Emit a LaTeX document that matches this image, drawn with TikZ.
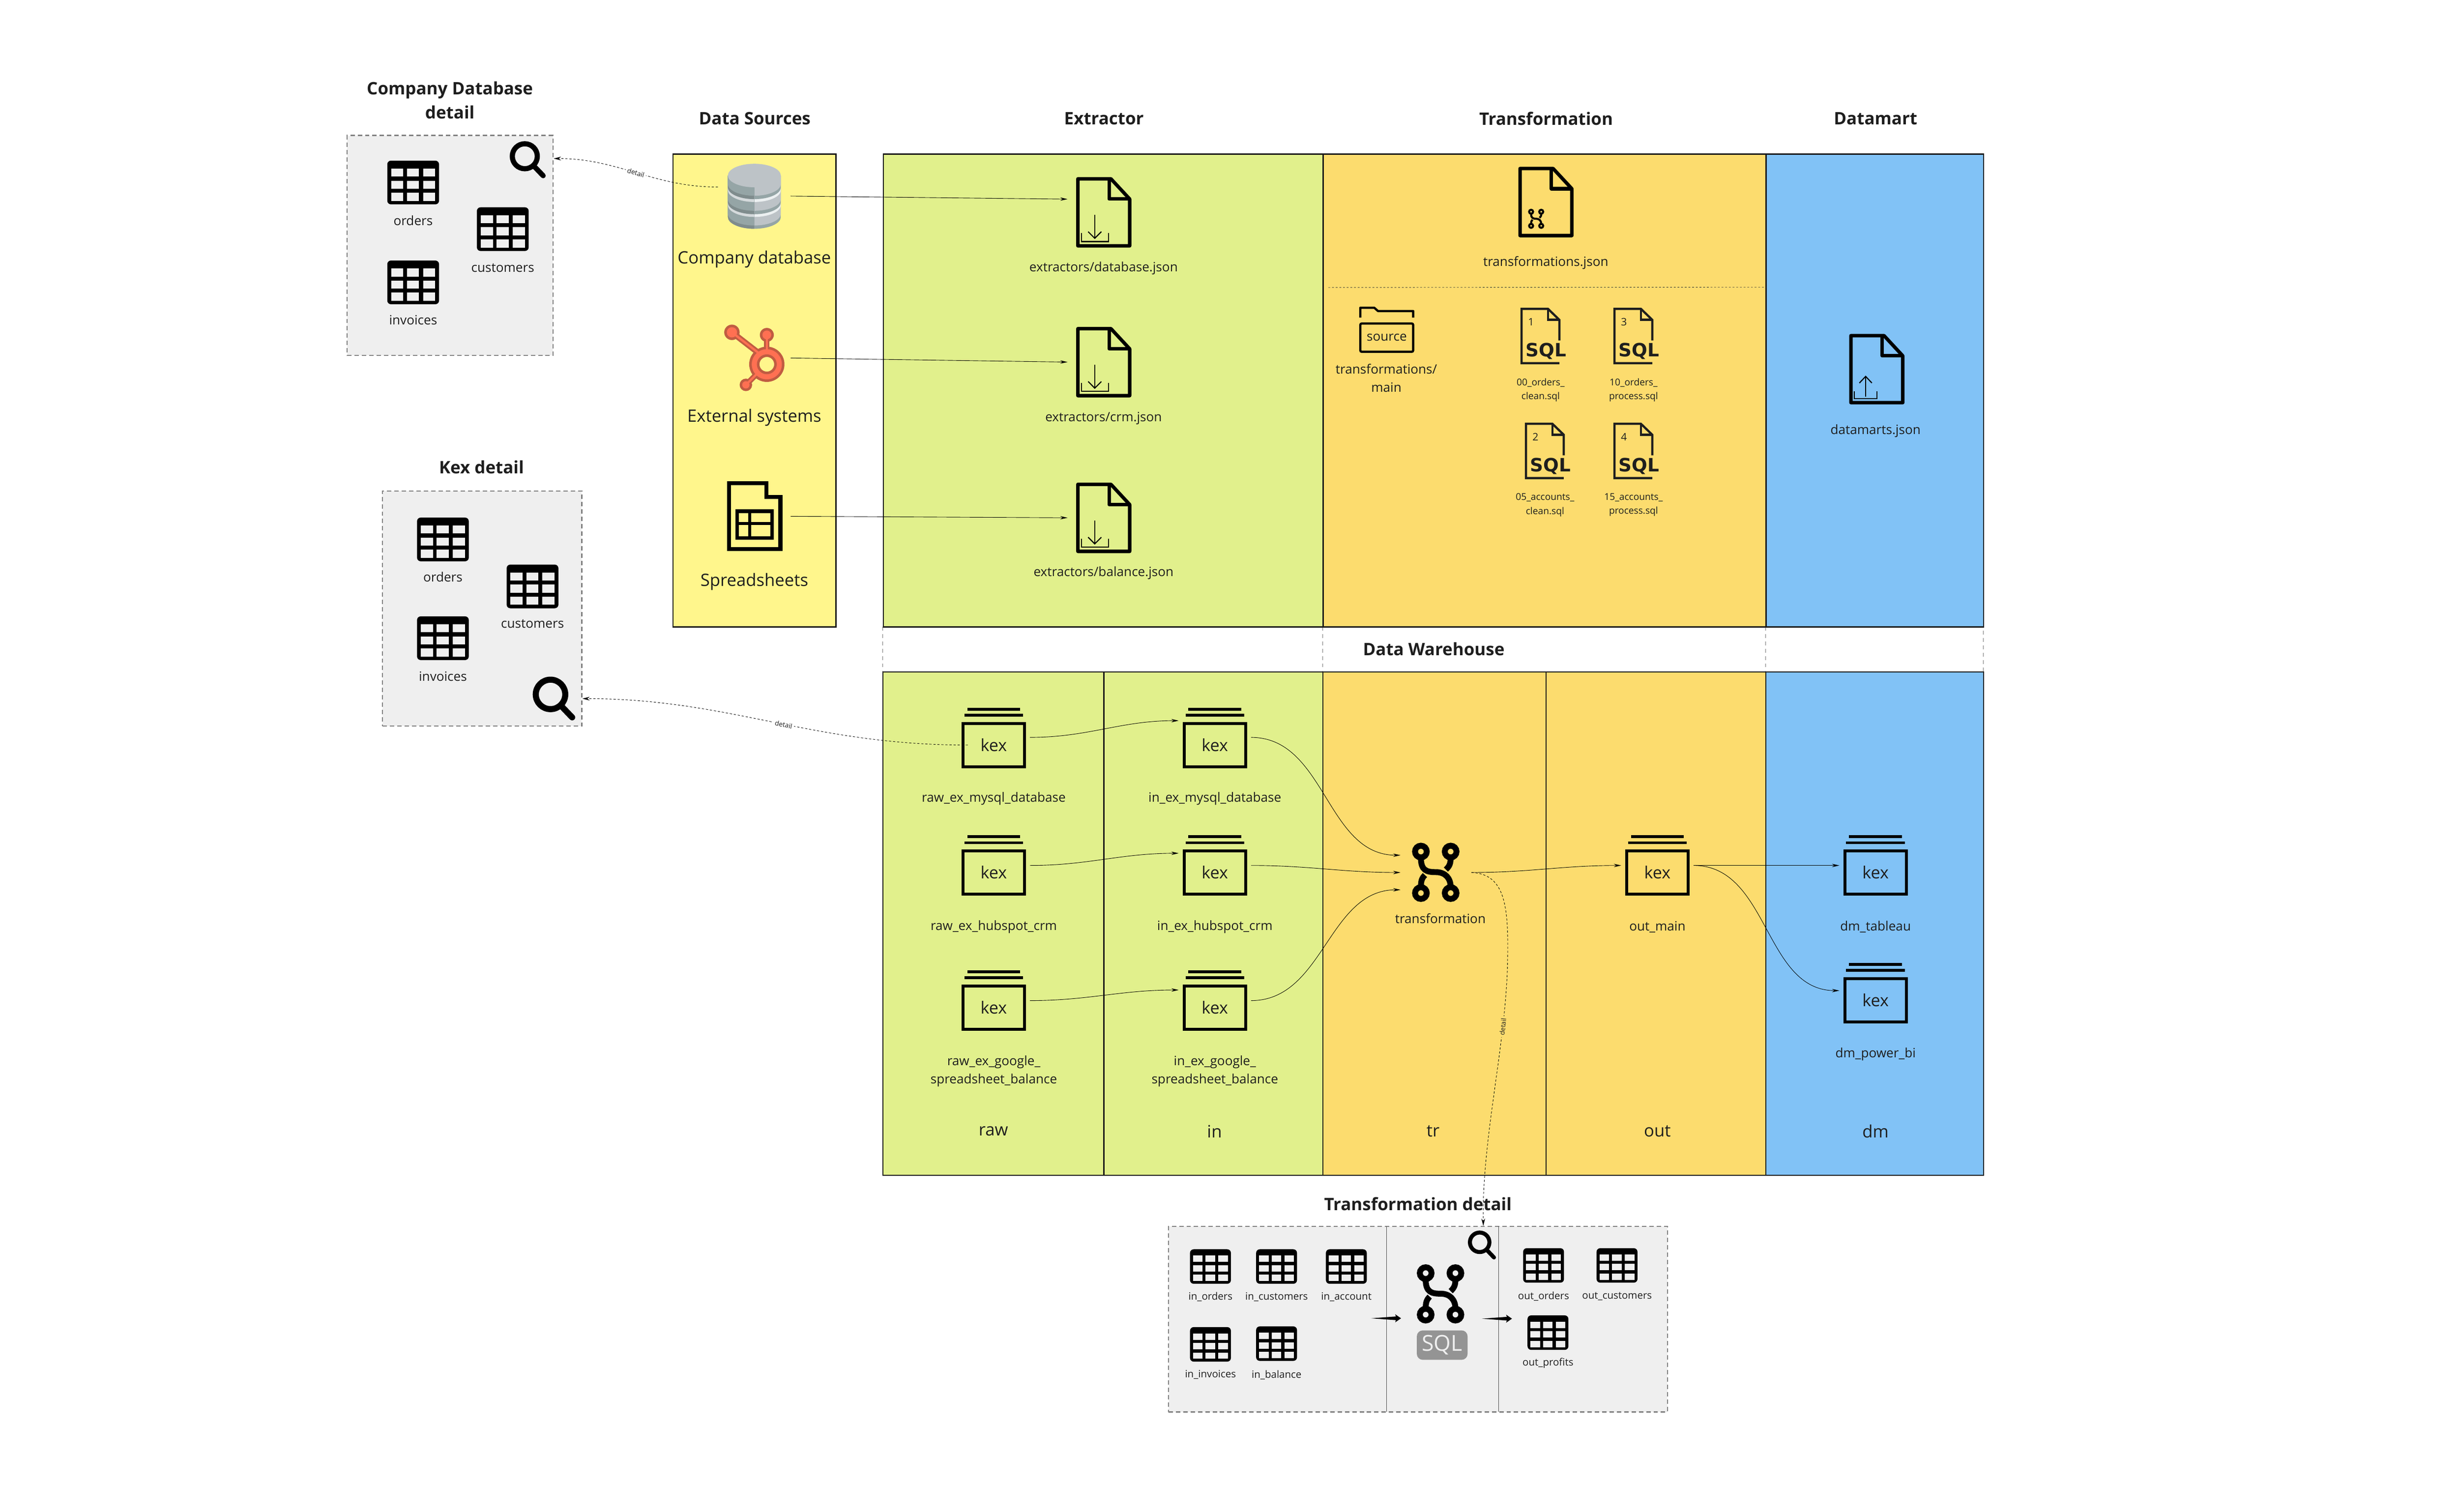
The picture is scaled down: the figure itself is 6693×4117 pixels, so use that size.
\documentclass[tikz,border=0pt]{standalone}
\usepackage{fontspec}
\setmainfont{Open Sans}
\newfontfamily\sqlfont{DejaVu Sans}
\usetikzlibrary{arrows.meta}
\definecolor{srcyellow}{HTML}{FFF68C}
\definecolor{extgreen}{HTML}{E1F08C}
\definecolor{trorange}{HTML}{FCDC6E}
\definecolor{dmblue}{HTML}{81C2F6}
\definecolor{boxgray}{HTML}{EFEFEF}
\definecolor{txtdark}{HTML}{1E1E1E}
\definecolor{hubfill}{HTML}{FF7052}
\definecolor{hubedge}{HTML}{C05C42}
\definecolor{dbtop}{HTML}{BDC3C7}
\tikzset{
  panel/.style={draw=black!90,line width=0.03cm,inner sep=0pt},
  detailbox/.style={draw=black!50,fill=boxgray,line width=0.03cm,dash pattern=on 0.12cm off 0.08cm,inner sep=0pt},
  kexbox/.style={draw=black,line width=0.08cm,minimum width=1.67cm,minimum height=1.18cm,inner sep=0pt,outer sep=0.15cm,text=txtdark,font=\fontsize{13}{15}\selectfont},
  iconspot/.style={inner sep=0pt,minimum width=#1},
  lbl/.style={inner sep=0pt,align=center,text=txtdark,font=\fontsize{9.95}{14}\selectfont},
  lblsmall/.style={lbl,font=\fontsize{7.3}{10.8}\selectfont},
  lbltable/.style={lbl,font=\fontsize{7.8}{10.8}\selectfont},
  lblbig/.style={lbl,font=\fontsize{13.2}{18.5}\selectfont},
  titlelbl/.style={lbl,font=\bfseries\fontsize{13.3}{18.5}\selectfont},
  flow/.style={draw=black,line width=0.012cm,-{Stealth[length=0.2cm,width=0.09cm]}},
  detailflow/.style={draw=black,line width=0.012cm,dash pattern=on 0.06cm off 0.05cm,-{Stealth[length=0.2cm,width=0.1cm]}},
  detailtag/.style={inner sep=0.05cm,text=txtdark,font=\fontsize{5.2}{6}\selectfont},
  pics/tablegrid/.style={code={
    \fill[black,rounded corners=0.1cm] (-70.5,-59.5) rectangle (70.5,59.5);
    \foreach \cx in {-60,-17,27}
      \foreach \cy in {-38,-5,28}
        \fill[boxgray] (\cx,\cy) rectangle ++(33,22);
  }},
  pics/kexstack/.style={code={
    \draw[line width=0.08cm] (-80,-81) -- (80,-81);
    \draw[line width=0.08cm] (-72,-98) -- (72,-98);
  }},
  pics/docpage/.style={code={
    \draw[line width=0.095cm,line join=round] (-70,-91) -- (20,-91) -- (71,-36) -- (71,91.5) -- (-70,91.5) -- cycle;
    \draw[line width=0.095cm,line join=round] (15,-91) -- (15,-36) -- (71,-36);
  }},
  pics/pulldown/.style={code={
    \draw[line width=0.03cm] (-24,7) -- (-24,71);
    \draw[line width=0.03cm] (-42,53) -- (-24,71) -- (-6,53);
    \draw[line width=0.03cm] (-60,57) -- (-60,80) -- (13,80) -- (13,57);
  }},
  pics/pushup/.style={code={
    \draw[line width=0.03cm] (-30,20) -- (-30,75);
    \draw[line width=0.03cm] (-47,38) -- (-30,20) -- (-13,38);
    \draw[line width=0.03cm] (-61,61) -- (-61,81) -- (1,81) -- (1,61);
  }},
  pics/mergeicon/.style={code={
    \begin{scope}[scale=#1,line width=#1*0.16cm]
      \foreach \cx/\cy in {-41/-57,40/-57,-41/56,40/56}
        \draw (\cx,\cy) circle[radius=0.16cm];
      \draw (-41,-40) .. controls (-41,-5) and (-25,-1) .. (0,-1) .. controls (25,-1) and (40,15) .. (40,40);
      \draw (40,-40) .. controls (40,-25) and (37,-17) .. (27,-8);
      \draw (-41,40) .. controls (-41,22) and (-38,15) .. (-30,7);
    \end{scope}
  }},
  pics/mergeicon/.default=1,
  pics/lens/.style={code={
    \begin{scope}[scale=#1,line width=#1*0.14cm]
      \draw (0,0) circle[radius=0.34cm];
      \draw[line cap=round] (26,28) -- (50,53);
    \end{scope}
  }},
  pics/lens/.default=1,
  pics/sqlsheet/.style={code={
    \draw[line width=0.06cm,draw=txtdark] (103,86) -- (103,30) -- (72,0) -- (0,0) -- (0,148) -- (103,148);
    \draw[line width=0.06cm,draw=txtdark] (72,0) -- (72,30) -- (103,30);
  }},
  pics/wedgearrow/.style={code={
    \fill[black] (0,0) -- (68,-5) -- (66,-11) -- (82,0) -- (66,11) -- (68,5) -- cycle;
  }},
}
\begin{document}
\begin{tikzpicture}[x=0.01cm,y=-0.01cm]
  \useasboundingbox (0,0) rectangle (6693,4117);

  \draw[black!55,line width=0.012cm,dash pattern=on 0.1cm off 0.1cm] (2404,1707) rectangle (5401,1830);
  \foreach \cx in {3602,4808}
    \draw[black!55,line width=0.012cm,dash pattern=on 0.1cm off 0.1cm] (\cx,1707) -- (\cx,1830);

  \node (panelsrc) [panel,fill=srcyellow,minimum width=4.43cm,minimum height=12.87cm] at (2054.5,1063.5) {};
  \node (panelext) [panel,fill=extgreen,minimum width=11.97cm,minimum height=12.87cm] at (3004.5,1063.5) {};
  \node (paneltrf) [panel,fill=trorange,minimum width=12.06cm,minimum height=12.87cm] at (4206,1063.5) {};
  \node (paneldmt) [panel,fill=dmblue,minimum width=5.92cm,minimum height=12.87cm] at (5105,1063.5) {};
  \node (panelraw) [panel,fill=extgreen,minimum width=6.02cm,minimum height=13.70cm] at (2705,2515) {};
  \node (panelin) [panel,fill=extgreen,minimum width=5.96cm,minimum height=13.70cm] at (3304,2515) {};
  \node (paneltr) [panel,fill=trorange,minimum width=6.08cm,minimum height=13.70cm] at (3906,2515) {};
  \node (panelout) [panel,fill=trorange,minimum width=5.98cm,minimum height=13.70cm] at (4509,2515) {};
  \node (paneldm) [panel,fill=dmblue,minimum width=5.93cm,minimum height=13.70cm] at (5104.5,2515) {};

  \node (titlecompany) [titlelbl] at (1225,273) {Company Database\\detail};
  \node (titlesrc) [titlelbl] at (2055,323) {Data Sources};
  \node (titleext) [titlelbl] at (3006,323) {Extractor};
  \node (titletrf) [titlelbl] at (4210,323) {Transformation};
  \node (titledmt) [titlelbl] at (5107,323) {Datamart};
  \node (titlekex) [titlelbl] at (1311,1272) {Kex detail};
  \node (titledw) [titlelbl] at (3904,1767) {Data Warehouse};
  \node (titletrd) [titlelbl] at (3861,3278) {Transformation detail};

  \node (companydetail) [detailbox,minimum width=5.61cm,minimum height=5.99cm] at (1225.5,668.5) {};
  \node (kexdetail) [detailbox,minimum width=5.42cm,minimum height=6.40cm] at (1313,1657) {};
  \node (trdetail) [detailbox,minimum width=13.58cm,minimum height=5.05cm] at (3861,3592.5) {};
  \draw[black!70,line width=0.015cm] (3776,3340) -- (3776,3845);
  \draw[black!70,line width=0.015cm] (4081,3340) -- (4081,3845);

  \foreach \nm/\tx/\ty/\ly/\lbl in {ordersa/1125/497/600/orders,customersa/1369/624/729/customers,invoicesa/1125/769/872/invoices,ordersb/1206/1469/1571/orders,customersb/1450/1597/1699/customers,invoicesb/1206/1738/1842/invoices}{
    \pic at (\tx,\ty) {tablegrid};
    \node (\nm) [lbl] at (\tx,\ly) {\lbl};
  }
  \foreach \nm/\tx/\ty/\ly/\lbl in {inorders/3296/3449/3532/in\_orders,incustomers/3476/3449/3532/in\_customers,inaccount/3666/3449/3532/in\_account,ininvoices/3296/3661/3744/in\_invoices,inbalance/3476/3659/3744/in\_balance,outorders/4203/3446/3530/out\_orders,outcustomers/4403/3446/3530/out\_customers,outprofits/4215/3629/3712/out\_profits}{
    \pic[scale=0.79] at (\tx,\ty) {tablegrid};
    \node (\nm) [lbltable] at (\tx,\ly) {\lbl};
  }
  \pic at (1429,425.5) {lens};
  \pic at (1499,1891) {lens=1.18};
  \pic at (4029,3383) {lens=0.78};

  \node (srcdb) [iconspot=1.46cm,outer sep=0.26cm,minimum height=1.78cm] at (2054,534) {};
  \begin{scope}[shift={(2054,478)}]
    \foreach \clipx/\body/\rim/\band in {72/BDC3C7/95A5A6/ECF0F1,0/95A5A6/7F8C8D/D5DADC}{
      \definecolor{dbbody}{HTML}{\body}
      \definecolor{dbrim}{HTML}{\rim}
      \definecolor{dbband}{HTML}{\band}
      \begin{scope}
        \clip (-73,-40) rectangle (\clipx,160);
        \foreach \dy/\col in {113/dbrim,104/dbbody,80.7/dbband,73.3/dbrim,64/dbbody,40/dbband,32.3/dbrim,23/dbbody}
          \fill[\col] (-72,0) -- (-72,\dy) arc[start angle=180,end angle=360,x radius=0.72cm,y radius=0.32cm] -- (72,0) -- cycle;
      \end{scope}
    }
    \fill[dbtop] (0,0) ellipse[x radius=0.72cm,y radius=0.32cm];
  \end{scope}
  \node (srcdblbl) [lblbig] at (2054,706) {Company database};

  \node (srchub) [iconspot=1.46cm,outer sep=0.26cm,minimum height=1.82cm] at (2054,975) {};
  \begin{scope}[shift={(2054,975)}]
    \draw[hubedge,line width=0.16cm] (-61,-70) -- (10,-15);
    \draw[hubedge,line width=0.15cm] (34,-63) -- (34,0);
    \draw[hubedge,line width=0.15cm] (-23,73) -- (10,40);
    \fill[hubedge] (-61,-70) circle[radius=0.21cm] (34,-63) circle[radius=0.19cm] (-23,73) circle[radius=0.17cm] (34,17) circle[radius=0.48cm];
    \draw[hubfill,line width=0.06cm] (-61,-70) -- (10,-15);
    \draw[hubfill,line width=0.06cm] (34,-63) -- (34,-20);
    \draw[hubfill,line width=0.06cm] (-23,73) -- (5,45);
    \fill[hubfill] (-61,-70) circle[radius=0.14cm] (34,-63) circle[radius=0.12cm] (-23,73) circle[radius=0.1cm] (34,17) circle[radius=0.41cm];
    \draw[hubedge,fill=srcyellow,line width=0.07cm] (34,17) circle[radius=0.235cm];
  \end{scope}
  \node (srchublbl) [lblbig] at (2054,1137) {External systems};

  \node (srcsheet) [iconspot=1.46cm,outer sep=0.26cm,minimum height=1.92cm] at (2054,1406) {};
  \draw[line width=0.11cm] (1985,1316) -- (2087,1316) -- (2087,1353) -- (2125,1353) -- (2125,1495) -- (1985,1495) -- cycle;
  \draw[line width=0.1cm] (2007,1392) rectangle (2102,1465);
  \draw[line width=0.08cm] (2041,1392) -- (2041,1465);
  \draw[line width=0.08cm] (2007,1426) -- (2102,1426);
  \node (srcsheetlbl) [lblbig] at (2054,1584) {Spreadsheets};

  \node (exdb) [iconspot=1.52cm,outer sep=0.22cm,minimum height=1.92cm] at (3005,578) {};
  \node (excrm) [iconspot=1.52cm,outer sep=0.22cm,minimum height=1.94cm] at (3005,986) {};
  \node (exbal) [iconspot=1.52cm,outer sep=0.22cm,minimum height=1.92cm] at (3005,1410) {};
  \foreach \ty in {578,986,1410}{
    \pic at (3005,\ty) {docpage};
    \pic at (3005,\ty) {pulldown};
  }
  \node (exdblbl) [lbl] at (3005,730) {extractors/database.json};
  \node (excrmlbl) [lbl] at (3005,1139) {extractors/crm.json};
  \node (exballbl) [lbl] at (3005,1561) {extractors/balance.json};

  \pic at (4209,550) {docpage};
  \pic at (4183,596) {mergeicon=0.34};
  \node (trjsonlbl) [lbl] at (4209,715) {transformations.json};
  \draw[black!80,line width=0.012cm,dash pattern=on 0.05cm off 0.05cm] (3617,783) -- (4809,782);

  \node (foldersrc) [draw=black,line width=0.06cm,rounded corners=0.04cm,minimum width=1.44cm,minimum height=0.77cm,inner sep=0pt,lbl] at (3776,919.5) {source};
  \draw[line width=0.06cm,line join=round] (3704,865) -- (3704,838) -- (3742,838) -- (3752,847) -- (3848,847) -- (3848,865);
  \node (folderlbl) [lbl] at (3775,1030) {transformations/\\main};

  \foreach \nm/\tx/\ty/\num/\lbl in {ordclean/4143/841/1/00\_orders\_\\clean.sql,ordproc/4396/841/3/10\_orders\_\\process.sql,accclean/4155/1154/2/05\_accounts\_\\clean.sql,accproc/4396/1154/4/15\_accounts\_\\process.sql}{
    \begin{scope}[shift={(\tx,\ty)}]
      \pic at (0,0) {sqlsheet};
      \node (\nm num) [lblsmall,font=\fontsize{8}{10}\selectfont] at (26,36) {\num};
      \node (\nm tag) [lbl,font=\sqlfont\bfseries\fontsize{14.2}{16}\selectfont] at (66.5,115) {SQL};
      \node (\nm) [lblsmall] at (52,221) {\lbl};
    \end{scope}
  }

  \pic at (5110,1005) {docpage};
  \pic at (5110,1005) {pushup};
  \node (dmjsonlbl) [lbl] at (5107,1174) {datamarts.json};

  \foreach \nm/\tx/\ty/\ly/\lbl in {rawdb/2706/2029/2175/raw\_ex\_mysql\_database,rawcrm/2706/2376/2524/raw\_ex\_hubspot\_crm,rawbal/2706/2744/2917/raw\_ex\_google\_\\spreadsheet\_balance,indb/3308/2029/2175/in\_ex\_mysql\_database,incrm/3308/2376/2524/in\_ex\_hubspot\_crm,inbal/3308/2744/2917/in\_ex\_google\_\\spreadsheet\_balance,outmain/4513/2376/2524/out\_main,dmtableau/5107/2376/2524/dm\_tableau,dmpowerbi/5107/2724/2871/dm\_power\_bi}{
    \pic at (\tx,\ty) {kexstack};
    \node (\nm) [kexbox] at (\tx,\ty) {kex};
    \node (\nm lbl) [lbl] at (\tx,\ly) {\lbl};
  }

  \node (mergetr) [iconspot=1.29cm,outer sep=0.32cm,minimum height=1.61cm] at (3910,2376) {};
  \pic at (3910,2376) {mergeicon};
  \node (mergelbl) [lbl] at (3922,2501) {transformation};

  \node (layerraw) [lblbig] at (2705,3081) {raw};
  \node (layerin) [lblbig] at (3307,3081) {in};
  \node (layertr) [lblbig] at (3902,3081) {tr};
  \node (layerout) [lblbig] at (4513,3081) {out};
  \node (layerdm) [lblbig] at (5107,3081) {dm};

  \pic at (3923,3524) {mergeicon};
  \node (sqlpill) [fill=black!42,rounded corners=0.16cm,minimum width=1.38cm,minimum height=0.8cm,inner sep=0pt,text=boxgray,font=\fontsize{17}{20}\selectfont] at (3927,3663) {SQL};
  \pic at (3733,3590) {wedgearrow};
  \pic at (4035,3591) {wedgearrow};

  \begin{scope}[flow]
    \draw (srcdb.east) to (exdb.160);
    \draw (srchub.east) to (excrm.west);
    \draw (srcsheet.east) to (exbal.west);
    \draw (rawdb.12.6) to[out=0,in=180] (indb.146.6);
    \draw (rawcrm.11.5) to[out=0,in=180] (incrm.152.6);
    \draw (rawbal.11.5) to[out=0,in=180] (inbal.154);
    \draw (indb.12.6) to[out=0,in=180] (mergetr.154);
    \draw (incrm.11.5) to[out=0,in=180] (mergetr.west);
    \draw (inbal.11.5) to[out=0,in=180] (mergetr.206);
    \draw (mergetr.east) to[out=0,in=180] (outmain.169);
    \draw (outmain.11) to[out=0,in=180] (dmtableau.169);
    \draw (outmain.11) to[out=0,in=180] (dmpowerbi.165.7);
  \end{scope}
  \begin{scope}[detailflow]
    \draw (srcdb.166) to[out=180,in=0] node[detailtag,fill=white,sloped] (tagcompany) {detail} (companydetail.40);
    \draw[shorten <=-0.28cm] (rawdb.west) to[out=180,in=0] node[detailtag,fill=white,sloped,pos=0.46] (tagkex) {detail} (kexdetail.318);
    \draw (mergetr.east) .. controls (4100,2380) and (4108,2470) .. (4105,2620) .. controls (4100,2850) and (4035,3100) .. node[detailtag,fill=trorange,sloped,pos=0.25] (tagtr) {detail} (trdetail.55.4);
  \end{scope}
\end{tikzpicture}
\end{document}
